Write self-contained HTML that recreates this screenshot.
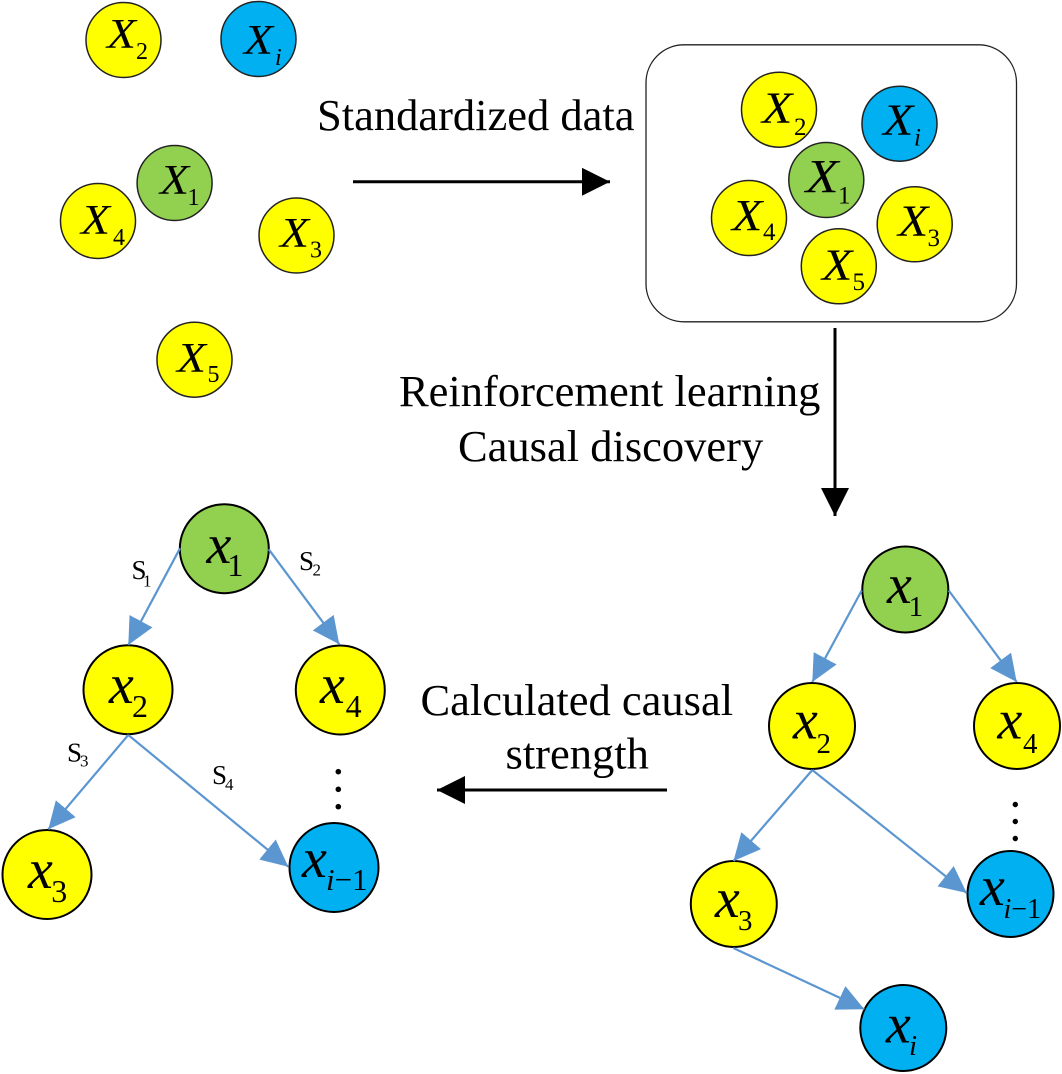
<!DOCTYPE html>
<html><head><meta charset="utf-8">
<style>
html,body{margin:0;padding:0;background:#fff;width:1062px;height:1074px;overflow:hidden}
svg{display:block}
text{font-family:"Liberation Serif",serif;fill:#000}
.v{font-style:italic}
.a{font-size:42px;font-style:italic}
.b{font-size:44px;font-style:italic}
.s{font-size:24px}
.t{font-size:25px}
.c{font-size:56px;font-style:italic}
.d{font-size:32px}
.f{font-size:29px}
.g{font-size:27px}
.h{font-size:17px}
.m{font-size:44.5px}
</style></head><body>
<svg width="1062" height="1074" viewBox="0 0 1062 1074" xmlns="http://www.w3.org/2000/svg">
<defs>
<marker id="b" markerUnits="userSpaceOnUse" markerWidth="28" markerHeight="26" refX="27" refY="13" orient="auto"><path d="M0 0L27 13L0 26Z" fill="#5b96d0"/></marker>
<marker id="k" markerUnits="userSpaceOnUse" markerWidth="30" markerHeight="28" refX="28" refY="14" orient="auto"><path d="M0 0L28 14L0 28Z" fill="#000"/></marker>
</defs>

<rect x="646" y="44.8" width="370.5" height="277" rx="38" ry="38" fill="#fff" stroke="#222" stroke-width="1.3"/>

<g stroke="#222" stroke-width="1.5" fill="#ffff00">
<circle cx="123.5" cy="40" r="37.5"/>
<circle cx="98" cy="221" r="37.5"/>
<circle cx="296.5" cy="235.5" r="37.5"/>
<circle cx="194.5" cy="359.7" r="37.5"/>
<circle cx="779" cy="109.7" r="37.5"/>
<circle cx="749" cy="218" r="37.5"/>
<circle cx="914.7" cy="224.3" r="37.5"/>
<circle cx="838.8" cy="266.3" r="37.5"/>
</g>
<g stroke="#222" stroke-width="1.5" fill="#00b0f0">
<circle cx="258.5" cy="39" r="37.5"/>
<circle cx="899.5" cy="123.7" r="37.5"/>
</g>
<g stroke="#222" stroke-width="1.5" fill="#92d050">
<circle cx="174.6" cy="183" r="37.5"/>
<circle cx="826.3" cy="180" r="37.5"/>
</g>

<g stroke="#000" stroke-width="2" fill="#ffff00">
<circle cx="128" cy="689.7" r="44.5"/>
<circle cx="340.3" cy="690" r="44.5"/>
<circle cx="47" cy="874.5" r="44.5"/>
<circle cx="812" cy="726" r="43"/>
<circle cx="1017" cy="726" r="43"/>
<circle cx="733.8" cy="904" r="43"/>
</g>
<g stroke="#000" stroke-width="2" fill="#00b0f0">
<circle cx="334" cy="867.5" r="44.5"/>
<circle cx="1010.5" cy="894" r="43"/>
<circle cx="903.3" cy="1028" r="43"/>
</g>
<g stroke="#000" stroke-width="2" fill="#92d050">
<circle cx="224.3" cy="548.7" r="44.5"/>
<circle cx="905.3" cy="589.5" r="43"/>
</g>

<g stroke="#5b96d0" stroke-width="2.2" fill="none">
<line x1="180" y1="548.3" x2="128.3" y2="645" marker-end="url(#b)"/>
<line x1="268.7" y1="549.3" x2="339.3" y2="644.3" marker-end="url(#b)"/>
<line x1="128.3" y1="735" x2="48.3" y2="829.3" marker-end="url(#b)"/>
<line x1="128.3" y1="735" x2="288.3" y2="866.7" marker-end="url(#b)"/>
<line x1="861.7" y1="590.5" x2="812.3" y2="682" marker-end="url(#b)"/>
<line x1="948.7" y1="590.5" x2="1016.7" y2="682" marker-end="url(#b)"/>
<line x1="812.3" y1="770" x2="733.5" y2="861" marker-end="url(#b)"/>
<line x1="812.3" y1="770" x2="966.7" y2="893" marker-end="url(#b)"/>
<line x1="733.3" y1="948" x2="864.3" y2="1009.3" marker-end="url(#b)"/>
</g>

<g stroke="#000" stroke-width="3" fill="none">
<line x1="353" y1="181.8" x2="610" y2="181.8" marker-end="url(#k)"/>
<line x1="835" y1="328" x2="835" y2="516" marker-end="url(#k)"/>
<line x1="667" y1="790" x2="437" y2="790" marker-end="url(#k)"/>
</g>

<text class="m" x="317" y="130">Standardized data</text>
<text class="m" x="399" y="406">Reinforcement learning</text>
<text class="m" x="458" y="461">Causal discovery</text>
<text class="m" x="420.5" y="715">Calculated causal</text>
<text class="m" x="505.5" y="768.5">strength</text>

<text class="g" x="131.5" y="579">S</text><text class="h" x="143" y="586.7">1</text>
<text class="g" x="299" y="570">S</text><text class="h" x="312.5" y="575.7">2</text>
<text class="g" x="67" y="761.7">S</text><text class="h" x="80" y="766.7">3</text>
<text class="g" x="212" y="784">S</text><text class="h" x="225" y="790">4</text>

<text class="a" x="107" y="48" textLength="29" lengthAdjust="spacingAndGlyphs">X</text><text class="s" x="136" y="59">2</text>
<text class="a" x="244" y="54" textLength="29" lengthAdjust="spacingAndGlyphs">X</text><text class="s v" x="275" y="65">i</text>
<text class="a" x="160" y="194" textLength="29" lengthAdjust="spacingAndGlyphs">X</text><text class="s" x="187.5" y="205">1</text>
<text class="a" x="81" y="234" textLength="29" lengthAdjust="spacingAndGlyphs">X</text><text class="s" x="113" y="245">4</text>
<text class="a" x="280" y="247" textLength="29" lengthAdjust="spacingAndGlyphs">X</text><text class="s" x="310" y="257.5">3</text>
<text class="a" x="177" y="372" textLength="29" lengthAdjust="spacingAndGlyphs">X</text><text class="s" x="207.5" y="382">5</text>

<text class="b" x="762" y="122.7" textLength="30.4" lengthAdjust="spacingAndGlyphs">X</text><text class="t" x="794" y="135">2</text>
<text class="b" x="883" y="134.3" textLength="30.4" lengthAdjust="spacingAndGlyphs">X</text><text class="t v" x="914" y="145.7">i</text>
<text class="b" x="805.7" y="192.3" style="font-size:48px" textLength="33" lengthAdjust="spacingAndGlyphs">X</text><text class="t" x="838" y="203.3">1</text>
<text class="b" x="732" y="230" textLength="30.4" lengthAdjust="spacingAndGlyphs">X</text><text class="t" x="763" y="240">4</text>
<text class="b" x="898" y="235.7" textLength="30.4" lengthAdjust="spacingAndGlyphs">X</text><text class="t" x="927.5" y="246">3</text>
<text class="b" x="822" y="279.3" textLength="30.4" lengthAdjust="spacingAndGlyphs">X</text><text class="t" x="852.5" y="290">5</text>

<text class="c" x="206.5" y="563">x</text><text class="d" x="227.4" y="576">1</text>
<text class="c" x="109" y="703">x</text><text class="d" x="132" y="717">2</text>
<text class="c" x="320" y="703">x</text><text class="d" x="345.6" y="717">4</text>
<text class="c" x="28" y="888">x</text><text class="d" x="51.3" y="902">3</text>
<text class="c" x="302" y="877">x</text><text x="326" y="890" style="font-size:31px"><tspan class="v">i</tspan>−1</text>

<text class="c" x="887" y="603">x</text><text class="f" x="908.6" y="616">1</text>
<text class="c" x="793" y="738.7">x</text><text class="f" x="816.5" y="753">2</text>
<text class="c" x="997.5" y="738.7">x</text><text class="f" x="1023" y="753">4</text>
<text class="c" x="715" y="917">x</text><text class="f" x="738" y="930">3</text>
<text class="c" x="980" y="905">x</text><text x="1003.5" y="918" style="font-size:28px"><tspan class="v">i</tspan>−1</text>
<text class="c" x="886" y="1042.7">x</text><text class="f v" x="909" y="1055">i</text>

<g fill="#000">
<circle cx="338.3" cy="771.7" r="2.8"/><circle cx="338.3" cy="789.3" r="2.8"/><circle cx="338.3" cy="806.7" r="2.8"/>
<circle cx="1015.3" cy="804.5" r="2.7"/><circle cx="1015.3" cy="821.5" r="2.7"/><circle cx="1015.3" cy="838.5" r="2.7"/>
</g>
</svg>
</body></html>
